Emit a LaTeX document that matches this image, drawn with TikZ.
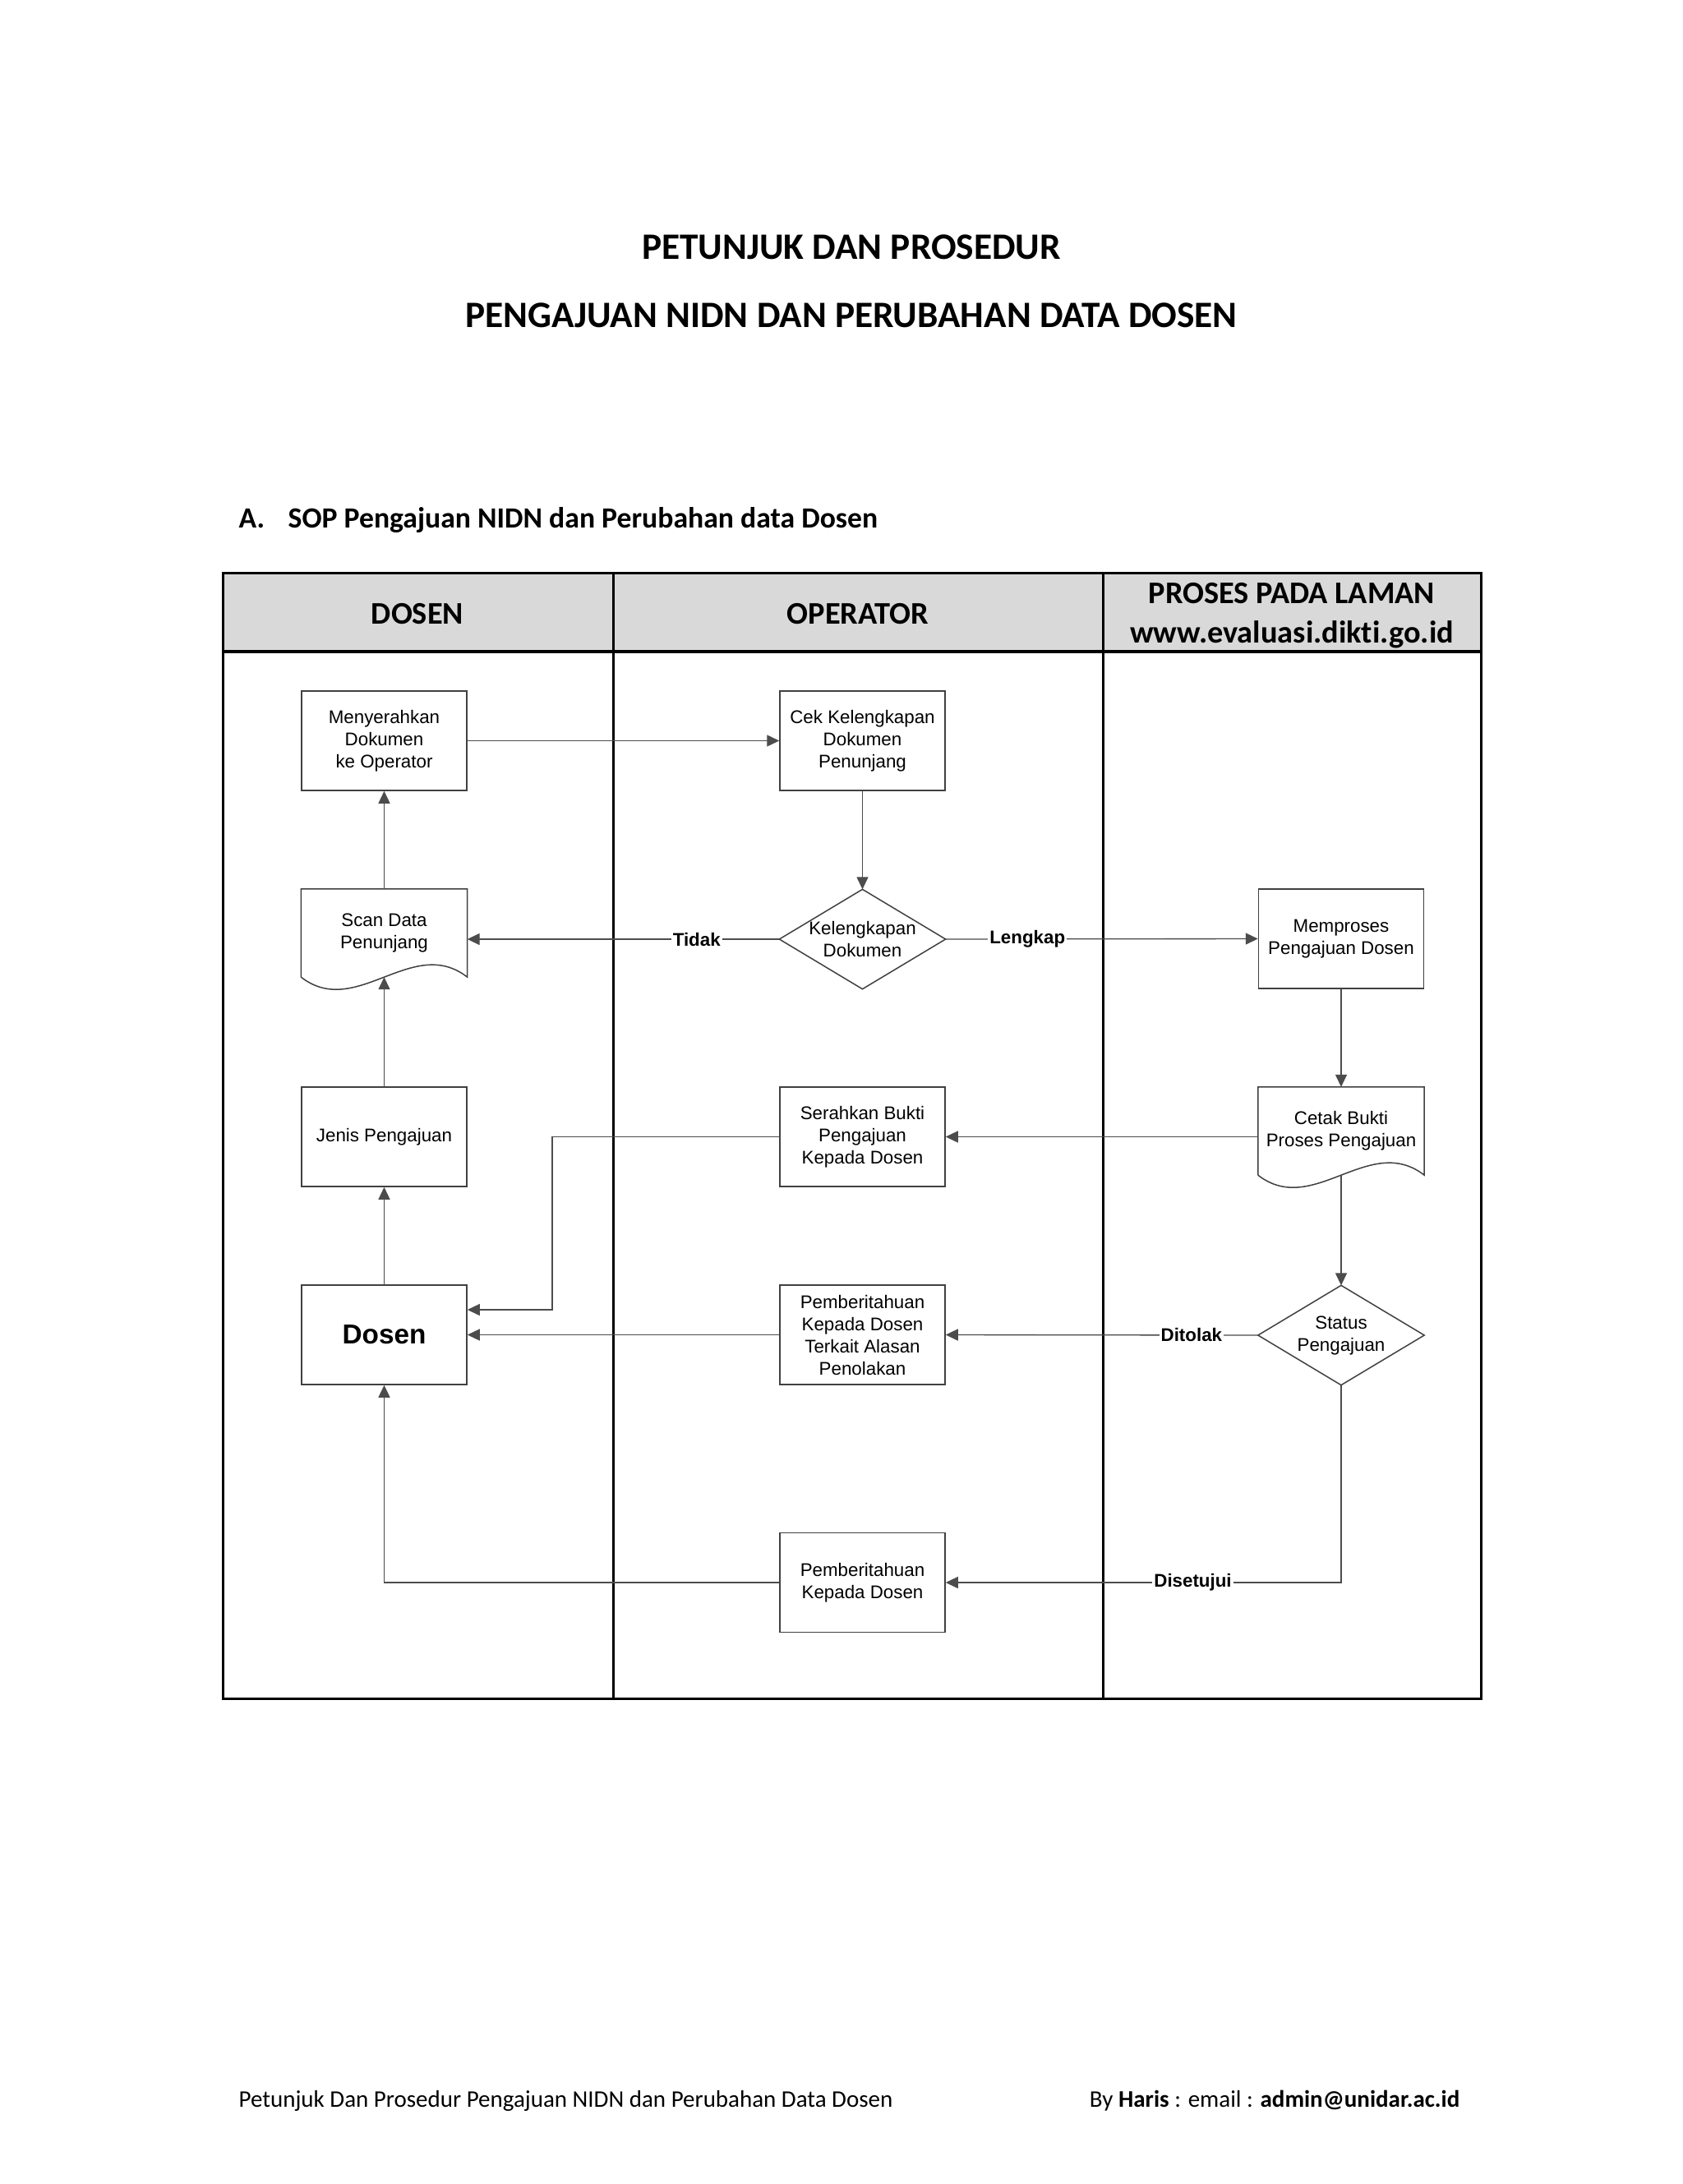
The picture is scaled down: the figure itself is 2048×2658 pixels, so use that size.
\documentclass[tikz,border=0pt]{standalone}
\usepackage{fontspec}
\setmainfont{Carlito}[Ligatures=NoCommon]
\newfontfamily\arial{Liberation Sans}
\usetikzlibrary{calc,arrows.meta}

\tikzset{
  box/.style={draw=black!75,line width=0.45pt,rectangle,minimum width=60.3pt,minimum height=36.3pt,
    inner sep=1pt,align=center,font=\arial\fontsize{6.7}{8.1}\selectfont},
  docbox/.style={rectangle,minimum width=60.3pt,minimum height=31.8pt,
    inner sep=1pt,align=center,font=\arial\fontsize{6.7}{8.1}\selectfont},
  decbox/.style={rectangle,minimum width=60.3pt,minimum height=36pt,
    inner sep=0pt,align=center,font=\arial\fontsize{6.7}{8.1}\selectfont},
  shapeline/.style={draw=black!75,line width=0.45pt},
  flow/.style={draw=black!70,line width=0.4pt,-{Triangle[length=4.5pt,width=4.2pt]}},
  cond/.style={fill=white,inner sep=0.6pt,font=\arial\bfseries\fontsize{6.7}{8}\selectfont},
  lane/.style={line width=0.9pt},
  teks/.style={inner sep=0pt}
}

\begin{document}
\begin{tikzpicture}[x=0.3pt,y=-0.3pt]
\useasboundingbox[fill=white] (0,0) rectangle (2048,2658);

% judul
\node[teks,anchor=base] (judul1) at (1036,315) {\fontsize{13.6}{16}\selectfont\bfseries PETUNJUK DAN PROSEDUR};
\node[teks,anchor=base] (judul2) at (1036,398) {\fontsize{13.6}{16}\selectfont\bfseries PENGAJUAN NIDN DAN PERUBAHAN DATA DOSEN};
\node[teks,anchor=base west] (subA) at (290,642) {\fontsize{10.7}{13}\selectfont\bfseries A.};
\node[teks,anchor=base west] (subjudul) at (350,642) {\fontsize{10.7}{13}\selectfont\bfseries SOP Pengajuan NIDN dan Perubahan data Dosen};

% tabel swimlane
\fill[black!15] (271,697) rectangle (1802,793);
\draw[lane] (271,697) rectangle (1802,2067);
\draw[line width=1.2pt] (271,793) -- (1802,793);
\draw[lane] (746,697) -- (746,2067);
\draw[lane] (1342,697) -- (1342,2067);
\node[teks,anchor=base] (hdosen) at (508,759) {\fontsize{11.5}{14.4}\selectfont\bfseries DOSEN};
\node[teks,anchor=base] (hoperator) at (1044,759) {\fontsize{11.5}{14.4}\selectfont\bfseries OPERATOR};
\node[teks,align=center,font=\fontsize{11.5}{14.4}\selectfont\bfseries] (hlaman) at (1572,749) {PROSES PADA LAMAN\\www.evaluasi.dikti.go.id};

% DOSEN
\node[box] (serah) at (467.5,901.5) {Menyerahkan\\Dokumen\\ke Operator};
\node[docbox] (scan) at (467.5,1135.5) {Scan Data\\Penunjang};
\draw[shapeline] (scan.south west) -- (scan.north west) -- (scan.north east) -- (scan.south east)
  .. controls ($(scan.south east)+(-67,-52)$) and ($(scan.south west)+(67,52)$) .. (scan.south west);
\node[box] (jenis) at (467.5,1383.5) {Jenis Pengajuan};
\node[box,font=\arial\bfseries\fontsize{10}{12}\selectfont] (dosen) at (467.5,1624.5) {Dosen};

% OPERATOR
\node[box] (cek) at (1049.5,901.5) {Cek Kelengkapan\\Dokumen\\Penunjang};
\node[decbox] (kel) at (1049.5,1143) {Kelengkapan\\Dokumen};
\draw[shapeline] (kel.north) -- (kel.east) -- (kel.south) -- (kel.west) -- cycle;
\node[box] (bukti) at (1049.5,1383.5) {Serahkan Bukti\\Pengajuan\\Kepada Dosen};
\node[box] (tolak) at (1049.5,1624.5) {Pemberitahuan\\Kepada Dosen\\Terkait Alasan\\Penolakan};
\node[box] (setuju) at (1049.5,1926) {Pemberitahuan\\Kepada Dosen};

% PROSES PADA LAMAN
\node[box] (proses) at (1632,1142.5) {Memproses\\Pengajuan Dosen};
\node[docbox] (cetak) at (1632,1376.5) {Cetak Bukti\\Proses Pengajuan};
\draw[shapeline] (cetak.south west) -- (cetak.north west) -- (cetak.north east) -- (cetak.south east)
  .. controls ($(cetak.south east)+(-67,-52)$) and ($(cetak.south west)+(67,52)$) .. (cetak.south west);
\node[decbox] (status) at (1632,1625) {Status\\Pengajuan};
\draw[shapeline] (status.north) -- (status.east) -- (status.south) -- (status.west) -- cycle;

% alur
\draw[flow] (serah.east) -- (cek.west);
\draw[flow] (scan.north) -- (serah.south);
\draw[flow] (cek.south) -- (kel.north);
\draw[flow] (kel.west) -- node[cond,pos=0.265] {Tidak} (kel.west -| scan.east);
\draw[flow] (kel.east) -- node[cond,pos=0.262] {Lengkap} (proses.west);
\draw[flow] (proses.south) -- (cetak.north);
\draw[flow] (bukti -| cetak.west) -- (bukti.east);
\coordinate (belok) at (672,1594);
\draw[flow] (bukti.west) -| (belok) -- (belok -| dosen.east);
\draw[flow] (cetak.south) -- (status.north);
\draw[flow] (status.west) -- node[cond,pos=0.213] {Ditolak} (tolak.east);
\draw[flow] (tolak.west) -- (dosen.east);
\draw[flow] (status.south) |- node[cond,pos=0.6875] {Disetujui} (setuju.east);
\draw[flow] (setuju.west) -| (dosen.south);
\draw[flow] (dosen.north) -- (jenis.south);
\draw[flow] (jenis.north) -- (scan.south);

% footer
\node[teks,anchor=base west] (kaki1) at (290,2564) {\fontsize{8.7}{10}\selectfont Petunjuk Dan Prosedur Pengajuan NIDN dan Perubahan Data Dosen};
\node[teks,anchor=base east] (kaki2) at (1777,2564) {\fontsize{8.7}{10}\selectfont By \textbf{Haris} : email : \textbf{admin@unidar.ac.id}};
\end{tikzpicture}
\end{document}
